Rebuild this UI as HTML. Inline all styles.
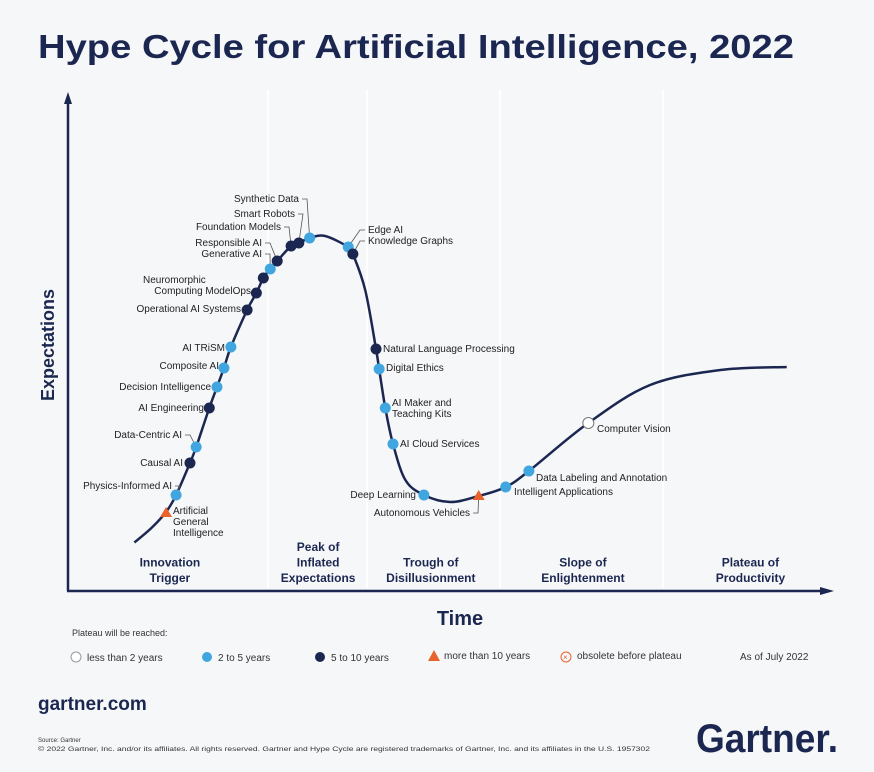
<!DOCTYPE html>
<html><head><meta charset="utf-8"><style>
html,body{margin:0;padding:0;background:#f6f7f9;}
svg{display:block;font-family:"Liberation Sans",sans-serif;}
</style></head><body>
<svg id="chart" width="874" height="772" viewBox="0 0 874 772">
<rect width="874" height="772" fill="#f6f7f9"/>
<text x="38" y="58" font-size="33" font-weight="bold" fill="#1b2750" textLength="756" lengthAdjust="spacingAndGlyphs">Hype Cycle for Artificial Intelligence, 2022</text>
<g stroke="#ffffff" stroke-width="2">
<line x1="268" y1="90" x2="268" y2="588"/><line x1="367" y1="90" x2="367" y2="588"/><line x1="500" y1="90" x2="500" y2="588"/><line x1="663" y1="90" x2="663" y2="588"/>
</g>
<g stroke="#1b2750" stroke-width="2.5" fill="none">
<line x1="68" y1="96" x2="68" y2="591"/><line x1="67" y1="591" x2="826" y2="591"/>
</g>
<polygon points="64,104 68,92 72,104" fill="#1b2750"/>
<polygon points="820,587 834,591 820,595" fill="#1b2750"/>
<text transform="translate(54,345) rotate(-90)" text-anchor="middle" font-size="18" font-weight="bold" fill="#1b2750">Expectations</text>
<text x="460" y="625" text-anchor="middle" font-size="20" font-weight="bold" fill="#1b2750">Time</text>
<g id="phases" font-size="12" font-weight="bold" fill="#1b2750" text-anchor="middle"></g>
<path id="curve" fill="none" stroke="#1b2750" stroke-width="2.5"/>
<g id="leaders" stroke="#555" stroke-width="0.8" fill="none"></g>
<g id="marks"></g>
<g id="labels" font-size="10" fill="#222"></g>
<g font-size="10" fill="#333">
<text x="72" y="636" font-size="9">Plateau will be reached:</text>
<circle cx="76" cy="657" r="5" fill="#fff" stroke="#999"/><text x="87" y="661">less than 2 years</text>
<circle cx="207" cy="657" r="5" fill="#41a6df"/><text x="218" y="661">2 to 5 years</text>
<circle cx="320" cy="657" r="5" fill="#1b2750"/><text x="331" y="661">5 to 10 years</text>
<polygon points="428,661 434,650 440,661" fill="#e8622c"/><text x="444" y="659">more than 10 years</text>
<circle cx="566" cy="657" r="5" fill="none" stroke="#e8622c"/><text x="563" y="660" font-size="8" fill="#e8622c">×</text><text x="577" y="659">obsolete before plateau</text>
<text x="740" y="660">As of July 2022</text>
</g>
<text x="38" y="710" font-size="19" font-weight="bold" fill="#1b2750">gartner.com</text>
<text x="38" y="742" font-size="6" fill="#333">Source: Gartner</text>
<text x="38" y="751" font-size="6" fill="#333" textLength="612" lengthAdjust="spacingAndGlyphs">© 2022 Gartner, Inc. and/or its affiliates. All rights reserved. Gartner and Hype Cycle are registered trademarks of Gartner, Inc. and its affiliates in the U.S. 1957302</text>
<text x="696" y="752" font-size="40" font-weight="bold" fill="#1b2750" textLength="142" lengthAdjust="spacingAndGlyphs">Gartner.</text>
</svg>
<script>
// curve shape (time %, expectation %)
const curveT = [8.6,10.8,12.7,14.0,15.8,16.6,18.3,19.3,20.2,21.1,23.2,24.4,25.3,26.2,27.1,28.9,29.9,31.3,33.3,36.3,36.9,38.5,39.9,40.3,41.1,42.1,43.7,46.1,49.5,53.2,56.7,59.7,67.4,75.4,84.5,93.1];
const curveE = [9.5,12.4,15.6,19,25.4,28.6,36.4,40.6,44.4,48.6,56,59.4,62.4,64.2,65.8,68.8,69.4,70.4,70.8,68.6,67.2,60,48.2,44.2,36.4,29.2,22,19,17.6,18.8,20.6,23.8,33.4,41,44,44.6];
// technologies
const techNames = ["Artificial General Intelligence","Physics-Informed AI","Causal AI","Data-Centric AI","AI Engineering","Decision Intelligence","Composite AI","AI TRiSM","Operational AI Systems","Neuromorphic Computing","ModelOps","Generative AI","Responsible AI","Foundation Models","Smart Robots","Synthetic Data","Edge AI","Knowledge Graphs","Natural Language Processing","Digital Ethics","AI Maker and Teaching Kits","AI Cloud Services","Deep Learning","Autonomous Vehicles","Intelligent Applications","Data Labeling and Annotation","Computer Vision"];
const techT = [12.7,14.0,15.8,16.6,18.3,19.3,20.2,21.1,23.2,24.4,25.3,26.2,27.1,28.9,29.9,31.3,36.3,36.9,39.9,40.3,41.1,42.1,46.1,53.2,56.7,59.7,67.4];
const techE = [15.4,19,25.4,28.6,36.4,40.6,44.4,48.6,56,59.4,62.4,64.2,65.8,68.8,69.4,70.4,68.6,67.2,48.2,44.2,36.4,29.2,19,18.8,20.6,23.8,33.4];
const techCat = ["10+","2-5","5-10","2-5","5-10","2-5","2-5","2-5","5-10","5-10","5-10","2-5","5-10","5-10","5-10","2-5","2-5","5-10","5-10","2-5","2-5","2-5","2-5","10+","2-5","2-5","<2"];
// label layout: [lines, anchor, x, y, leader]
const labelLayout = [
 [["Artificial","General","Intelligence"],"start",173,514,0],
 [["Physics-Informed AI"],"end",172,489,1],
 [["Causal AI"],"end",183,466,0],
 [["Data-Centric AI"],"end",182,438,1],
 [["AI Engineering"],"end",204,411,0],
 [["Decision Intelligence"],"end",211,390,0],
 [["Composite AI"],"end",219,369,0],
 [["AI TRiSM"],"end",225,351,0],
 [["Operational AI Systems"],"end",241,312,0],
 [["Neuromorphic"],"start",143,283,0],
 [["Computing ModelOps"],"end",251,294,0],
 [["Generative AI"],"end",262,257,1],
 [["Responsible AI"],"end",262,246,1],
 [["Foundation Models"],"end",281,230,1],
 [["Smart Robots"],"end",295,217,1],
 [["Synthetic Data"],"end",299,202,1],
 [["Edge AI"],"start",368,233,1],
 [["Knowledge Graphs"],"start",368,244,1],
 [["Natural Language Processing"],"start",383,352,0],
 [["Digital Ethics"],"start",386,371,0],
 [["AI Maker and","Teaching Kits"],"start",392,406,0],
 [["AI Cloud Services"],"start",400,447,0],
 [["Deep Learning"],"end",416,498,0],
 [["Autonomous Vehicles"],"end",470,516,1],
 [["Intelligent Applications"],"start",514,495,0],
 [["Data Labeling and Annotation"],"start",536,481,0],
 [["Computer Vision"],"start",597,432,0]
];
const phaseNames = [["Innovation","Trigger"],["Peak of","Inflated","Expectations"],["Trough of","Disillusionment"],["Slope of","Enlightenment"],["Plateau of","Productivity"]];
const phaseT = [13.2,32.4,47.0,66.7,88.4];

const NS="http://www.w3.org/2000/svg";
function xS(t){return 68+t*7.72;}
function yS(e){return 590-e*5;}
function mk(tag,attrs,parent){const el=document.createElementNS(NS,tag);for(const k in attrs)el.setAttribute(k,attrs[k]);parent.appendChild(el);return el;}

const P=curveT.map((t,i)=>[xS(t),yS(curveE[i])]);
let d="M"+P[0][0]+","+P[0][1];
for(let i=0;i<P.length-1;i++){
 const p0=P[Math.max(0,i-1)],p1=P[i],p2=P[i+1],p3=P[Math.min(P.length-1,i+2)];
 const c1=[p1[0]+(p2[0]-p0[0])/6,p1[1]+(p2[1]-p0[1])/6];
 const c2=[p2[0]-(p3[0]-p1[0])/6,p2[1]-(p3[1]-p1[1])/6];
 d+=` C${c1[0].toFixed(1)},${c1[1].toFixed(1)} ${c2[0].toFixed(1)},${c2[1].toFixed(1)} ${p2[0].toFixed(1)},${p2[1].toFixed(1)}`;
}
document.getElementById('curve').setAttribute('d',d);

const gm=document.getElementById('marks'),gl=document.getElementById('labels'),gd=document.getElementById('leaders');
techNames.forEach((n,i)=>{
 const x=xS(techT[i]),y=yS(techE[i]),c=techCat[i];
 let el;
 if(c==="10+") el=mk('polygon',{points:`${x-6},${y+4} ${x},${y-6} ${x+6},${y+4}`,fill:'#e8622c'},gm);
 else el=mk('circle',{cx:x,cy:y,r:5.5,fill:c==="<2"?'#fff':(c==="2-5"?'#41a6df':'#1b2750'),stroke:c==="<2"?'#777':'none'},gm);
 
 
 const L=labelLayout[i];
 const t=mk('text',{x:L[2],y:L[3],'text-anchor':L[1]},gl);
 
 
 L[0].forEach((ln,j)=>{const s=mk('tspan',{x:L[2],dy:j?11:0},t);s.textContent=ln;});
 if(L[4]){
  const lx=L[1]==="end"?L[2]+3:L[2]-3, ly=L[3]-3;
  const pl=mk('polyline',{points:`${lx},${ly} ${lx+(L[1]==="end"?5:-5)},${ly} ${x},${y}`},gd);
  
  
 }
});
const gp=document.getElementById('phases');
phaseNames.forEach((lines,i)=>{
 const t=mk('text',{},gp);
 
 
 const y0=582-(lines.length-1)*15.5;
 lines.forEach((ln,j)=>{const s=mk('tspan',{x:xS(phaseT[i]),y:y0+j*15.5},t);s.textContent=ln;});
});
</script>
</body></html>
